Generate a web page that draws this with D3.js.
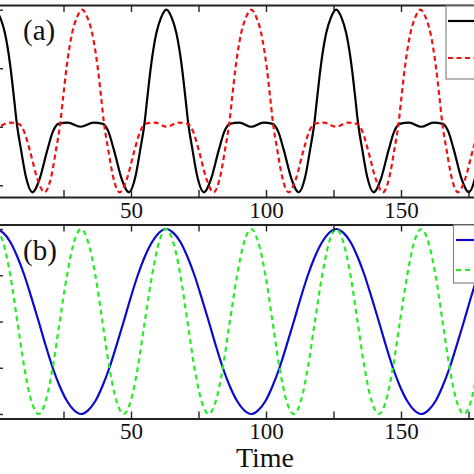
<!DOCTYPE html>
<html>
<head>
<meta charset="utf-8">
<script src="https://cdn.jsdelivr.net/npm/d3@7/dist/d3.min.js"></script>
<style>
  body { margin: 0; background: #fff; }
  #chart { width: 474px; height: 474px; overflow: hidden; }
</style>
</head>
<body>
<div id="chart"></div>
<script>

// panel (a) - black solid
var timeBlack = [-4.1,-2.4,-0.4,1.6,3.3,5.35,6.6,7.7,9.3,11.1,13.5,16.1,19.0,21.1,23.1,26.6,31.3,
  36.1,39.6,41.6,43.7,46.6,49.2,51.6,53.4,55.0,56.1,57.35,59.4,61.1,63.1,
  65.1,66.8,68.85,70.1,71.2,72.8,74.6,77.0,79.6,82.5,84.6,86.6,90.1,94.55,
  99.0,102.5,104.5,106.6,109.5,112.1,114.5,116.3,117.9,119.0,120.25,122.3,124.0,126.0,
  128.0,129.7,131.75,133.0,134.1,135.7,137.5,139.9,142.5,145.4,147.5,149.5,153.0,157.5,
  162.0,165.5,167.5,169.6,172.5,175.1,177.5,179.3,180.9,182.0,183.3];
var black = [0.80,0.93,1.00,0.93,0.80,0.51,0.26,0.03,-0.20,-0.43,-0.56,-0.45,-0.20,-0.04,0.025,0.035,0.0,
  0.035,0.025,-0.04,-0.20,-0.45,-0.56,-0.43,-0.20,0.03,0.26,0.51,0.80,0.93,1.00,
  0.93,0.80,0.51,0.26,0.03,-0.20,-0.43,-0.56,-0.45,-0.20,-0.04,0.025,0.035,0.0,
  0.035,0.025,-0.04,-0.20,-0.45,-0.56,-0.43,-0.20,0.03,0.26,0.51,0.80,0.93,1.00,
  0.93,0.80,0.51,0.26,0.03,-0.20,-0.43,-0.56,-0.45,-0.20,-0.04,0.025,0.035,0.0,
  0.035,0.025,-0.04,-0.20,-0.45,-0.56,-0.43,-0.20,0.03,0.26,0.51];

// panel (a) - red dashed
var timeRed = [-4.1,0.4,4.9,8.4,10.4,12.5,15.4,18.0,20.4,22.2,23.8,24.9,26.15,28.2,29.9,31.9,
  33.9,35.6,37.65,38.9,40.0,41.6,43.4,45.8,48.4,51.3,53.4,55.4,58.9,63.2,
  67.5,71.0,73.0,75.1,78.0,80.6,83.0,84.8,86.4,87.5,88.75,90.8,92.5,94.5,
  96.5,98.2,100.25,101.5,102.6,104.2,106.0,108.4,111.0,113.9,116.0,118.0,121.5,126.0,
  130.2,133.7,135.7,137.8,140.7,143.3,145.7,147.5,149.1,150.2,151.45,153.5,155.2,157.2,
  159.2,160.9,162.95,164.2,165.3,166.9,168.7,171.1,173.7,176.6,178.7,180.7,184.2];
var red = [0.035,0.0,0.035,0.025,-0.04,-0.20,-0.45,-0.56,-0.43,-0.20,0.03,0.26,0.51,0.80,0.93,1.00,
  0.93,0.80,0.51,0.26,0.03,-0.20,-0.43,-0.56,-0.45,-0.20,-0.04,0.025,0.035,0.0,
  0.035,0.025,-0.04,-0.20,-0.45,-0.56,-0.43,-0.20,0.03,0.26,0.51,0.80,0.93,1.00,
  0.93,0.80,0.51,0.26,0.03,-0.20,-0.43,-0.56,-0.45,-0.20,-0.04,0.025,0.035,0.0,
  0.035,0.025,-0.04,-0.20,-0.45,-0.56,-0.43,-0.20,0.03,0.26,0.51,0.80,0.93,1.00,
  0.93,0.80,0.51,0.26,0.03,-0.20,-0.43,-0.56,-0.45,-0.20,-0.04,0.025,0.035];

// panel (b)
var timeB = [0,2.6,5.3,7.9,10.5,13.1,15.8,18.4,21,23.6,26.3,28.9,31.5,34.1,36.8,39.4,42,44.6,47.3,49.9,
  52.5,55.1,57.8,60.4,63,65.6,68.3,70.9,73.5,76.1,78.8,81.4,84,86.6,89.3,91.9,94.5,97.1,99.8,102.4,
  105,107.6,110.3,112.9,115.5,118.1,120.8,123.4,126,128.6,131.3,133.9,136.5,139.1,141.8,144.4,147,
  149.6,152.3,154.9,157.5,160.1,162.8,165.4,168,170.6,173.3,175.9,178.5,181.1,183.8];
var blue = [1,0.98,0.93,0.85,0.75,0.63,0.5,0.37,0.25,0.15,0.07,0.02,0,0.02,0.07,0.15,0.25,0.37,0.5,0.63,0.75,0.85,0.93,0.98,
  1,0.98,0.93,0.85,0.75,0.63,0.5,0.37,0.25,0.15,0.07,0.02,0,0.02,0.07,0.15,0.25,0.37,0.5,0.63,0.75,0.85,0.93,0.98,
  1,0.98,0.93,0.85,0.75,0.63,0.5,0.37,0.25,0.15,0.07,0.02,0,0.02,0.07,0.15,0.25,0.37,0.5,0.63,0.75,0.85,0.93];
var green = [1,0.93,0.75,0.5,0.25,0.07,0,0.07,0.25,0.5,0.75,0.93,
  1,0.93,0.75,0.5,0.25,0.07,0,0.07,0.25,0.5,0.75,0.93,
  1,0.93,0.75,0.5,0.25,0.07,0,0.07,0.25,0.5,0.75,0.93,
  1,0.93,0.75,0.5,0.25,0.07,0,0.07,0.25,0.5,0.75,0.93,
  1,0.93,0.75,0.5,0.25,0.07,0,0.07,0.25,0.5,0.75,0.93,
  1,0.93,0.75,0.5,0.25,0.07,0,0.07,0.25,0.5,0.75];

var xTicks = [25,50,75,100,125,150,175];
var yTicksA = [-0.5,0,0.5,1];
var yTicksB = [0,0.25,0.5,0.75,1];
var panelLabels = ['(a)','(b)'];
var xLabel = 'Time';

var width = 474;
var height = 474;
var left = -4, right = 482;
var topA = 5, bottomA = 197;
var topB = 224.5, bottomB = 418.5;
var tickLen = 7;
var serif = 'Liberation Serif, Times New Roman, serif';
var axisColor = '#222';

var svg = d3.select('#chart')
  .append('svg')
  .attr('width', width)
  .attr('height', height)
  .style('background-color', '#fff');

var x = d3.scaleLinear().domain([0, 180]).range([left, right]);
var yA = d3.scaleLinear().domain([-0.6, 1.04]).range([bottomA, topA]);
var yB = d3.scaleLinear().domain([-0.0243, 1.0243]).range([bottomB, topB]);

function zip(t, v) {
  return t.map(function(d, i) { return [d, v[i]]; });
}

function drawPanel(y, top, bottom, yTicks, series, id, label) {
  svg.append('clipPath').attr('id', 'clip' + id)
    .append('rect')
    .attr('x', left).attr('y', top)
    .attr('width', right - left).attr('height', bottom - top);

  var g = svg.append('g').attr('clip-path', 'url(#clip' + id + ')');

  series.forEach(function(s) {
    g.append('path')
      .datum(s.data)
      .attr('fill', 'none')
      .attr('stroke', s.color)
      .attr('stroke-width', 2.2)
      .attr('stroke-dasharray', s.dash)
      .attr('d', d3.line()
        .curve(d3.curveMonotoneX)
        .x(function(d) { return x(d[0]); })
        .y(function(d) { return y(d[1]); }));
  });

  // axes, ticks pointing in
  var bottomAxis = svg.append('g')
    .attr('transform', 'translate(0,' + bottom + ')')
    .call(d3.axisBottom(x)
      .tickValues(xTicks)
      .tickSizeInner(-tickLen)
      .tickSizeOuter(0)
      .tickPadding(4.5)
      .tickFormat(function(d) { return d % 50 === 0 ? d : ''; }));

  var topAxis = svg.append('g')
    .attr('transform', 'translate(0,' + top + ')')
    .call(d3.axisTop(x).tickValues(xTicks).tickSizeInner(-tickLen).tickSizeOuter(0).tickFormat(''));

  var leftAxis = svg.append('g')
    .attr('transform', 'translate(' + left + ',0)')
    .call(d3.axisLeft(y).tickValues(yTicks).tickSizeInner(-tickLen).tickSizeOuter(0).tickFormat(''));

  var rightAxis = svg.append('g')
    .attr('transform', 'translate(' + right + ',0)')
    .call(d3.axisRight(y).tickValues(yTicks).tickSizeInner(-tickLen).tickSizeOuter(0).tickFormat(''));

  [bottomAxis, topAxis, leftAxis, rightAxis].forEach(function(a) {
    a.select('.domain').attr('stroke', axisColor).attr('stroke-width', 1.8);
    a.selectAll('.tick line').attr('stroke', axisColor).attr('stroke-width', 1.4);
    a.selectAll('.tick text')
      .attr('fill', '#111')
      .style('font-family', serif)
      .style('font-size', '23px');
  });

  svg.append('text')
    .attr('x', 23)
    .attr('y', top + 35)
    .text(label)
    .style('fill', '#111')
    .style('font-family', serif)
    .style('font-size', '29px');
}

drawPanel(yA, topA, bottomA, yTicksA, [
  { data: zip(timeBlack, black), color: '#000', dash: null },
  { data: zip(timeRed, red), color: '#f01010', dash: '5,3.5' }
], 'a', panelLabels[0]);

drawPanel(yB, topB, bottomB, yTicksB, [
  { data: zip(timeB, blue), color: '#0a0ad0', dash: null },
  { data: zip(timeB, green), color: '#22ee22', dash: '5,4' }
], 'b', panelLabels[1]);

// legends (text is cut off at the right edge)
var legA = svg.append('g');
legA.append('rect')
  .attr('x', 446).attr('y', 6).attr('width', 40).attr('height', 73)
  .attr('fill', '#fff').attr('stroke', '#888').attr('stroke-width', 1.2);
legA.append('line').attr('x1', 448).attr('x2', 480).attr('y1', 21).attr('y2', 21)
  .attr('stroke', '#000').attr('stroke-width', 2.2);
legA.append('line').attr('x1', 448).attr('x2', 480).attr('y1', 58).attr('y2', 58)
  .attr('stroke', '#f01010').attr('stroke-width', 2.2).attr('stroke-dasharray', '5,3.5');

var legB = svg.append('g');
legB.append('rect')
  .attr('x', 453.5).attr('y', 225).attr('width', 40).attr('height', 58)
  .attr('fill', '#fff').attr('stroke', '#888').attr('stroke-width', 1.2);
legB.append('line').attr('x1', 456).attr('x2', 480).attr('y1', 240).attr('y2', 240)
  .attr('stroke', '#0a0ad0').attr('stroke-width', 2.2);
legB.append('line').attr('x1', 456).attr('x2', 480).attr('y1', 270).attr('y2', 270)
  .attr('stroke', '#22ee22').attr('stroke-width', 2.2).attr('stroke-dasharray', '5,4');

svg.append('text')
  .attr('x', 265)
  .attr('y', 467)
  .attr('text-anchor', 'middle')
  .text(xLabel)
  .style('fill', '#111')
  .style('font-family', serif)
  .style('font-size', '28px');

</script>
</body>
</html>
